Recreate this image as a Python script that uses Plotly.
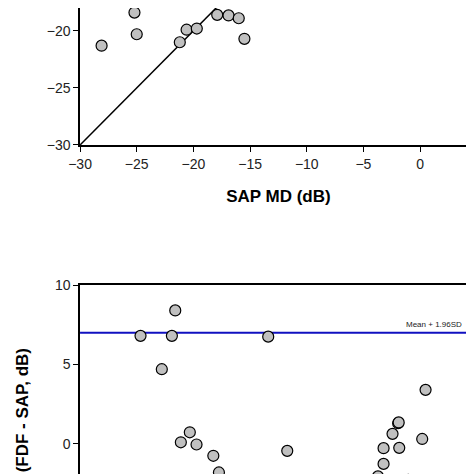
import plotly.graph_objects as go

# top panel: FDF MD vs SAP MD
sap_md = [-28.1, -25.2, -25.0, -21.2, -20.6, -19.7, -17.9, -16.9, -16.0, -15.5]
fdf_md = [-21.3, -18.4, -20.3, -21.0, -19.9, -19.8, -18.6, -18.65, -18.9, -20.7]

# bottom panel: Bland-Altman (mean vs difference)
ba_mean = [-24.6, -21.5, -21.8, -22.7, -13.2, -20.2, -21.0, -19.6, -18.1, -17.6, -11.5,
           0.85, -1.6, -1.55, -2.1, 0.55, -2.9, -1.5, -2.9, -3.4, -0.7]
ba_diff = [6.8, 8.4, 6.8, 4.7, 6.75, 0.73, 0.1, -0.04, -0.75, -1.8, -0.44,
           3.4, 1.3, 1.35, 0.63, 0.31, -0.27, -0.25, -1.26, -2.05, -2.26]
upper_loa = 7.0
lower_loa = -2.26

marker = dict(color="#c0c0c0", size=11, line=dict(color="black", width=1.2))

fig = go.Figure()
fig.add_trace(go.Scatter(x=[-30, 5], y=[-30, 5], mode="lines",
                         line=dict(color="black", width=1.5), xaxis="x", yaxis="y"))
fig.add_trace(go.Scatter(x=sap_md, y=fdf_md, mode="markers", marker=marker,
                         xaxis="x", yaxis="y", cliponaxis=False))
for v in [upper_loa, lower_loa]:
    fig.add_trace(go.Scatter(x=[-30, 5], y=[v, v], mode="lines",
                             line=dict(color="#1010c0", width=2), xaxis="x2", yaxis="y2"))
fig.add_trace(go.Scatter(x=ba_mean, y=ba_diff, mode="markers", marker=marker,
                         xaxis="x2", yaxis="y2"))

ax = dict(showgrid=False, zeroline=False, showline=True, linecolor="black", linewidth=1.5,
          ticks="outside", ticklen=5, tickcolor="black", automargin=False,
          tickfont=dict(size=14, color="#222"))
fig.update_layout(
    width=474, height=474, margin=dict(l=0, r=0, t=0, b=0),
    plot_bgcolor="white", paper_bgcolor="white", showlegend=False,
    font=dict(family="Liberation Sans, Arial"),
    xaxis=dict(ax, domain=[0.152, 0.989], range=[-30, 5], dtick=5, anchor="y",
               title=dict(text="<b>SAP MD (dB)</b>", font=dict(size=17, color="black"), standoff=20)),
    yaxis=dict(ax, domain=[0.711, 1], range=[-30, -18], dtick=5, anchor="x"),
    xaxis2=dict(ax, domain=[0.152, 0.979], range=[-30, 5], anchor="y2", showticklabels=False,
                mirror=True),
    yaxis2=dict(ax, domain=[0, 0.4156], range=[-2.4, 10], dtick=5, anchor="x2", mirror=True),
    shapes=[dict(type="line", xref="paper", yref="paper", x0=0.989, x1=0.989, y0=0.711, y1=1,
                 line=dict(color="black", width=1.5))],
    annotations=[
        dict(text="Mean + 1.96SD", xref="x2", yref="y2", x=4.3, y=upper_loa, xanchor="right",
             yanchor="bottom", showarrow=False, font=dict(size=8, color="#222"), yshift=2),
        dict(text="<b>Difference (FDF - SAP, dB)</b>", xref="paper", yref="paper", x=0.03,
             y=1 - 338 / 474, textangle=-90, xanchor="center", yanchor="top", showarrow=False,
             font=dict(size=17, color="black")),
    ],
)

fig.write_html("out.html")
